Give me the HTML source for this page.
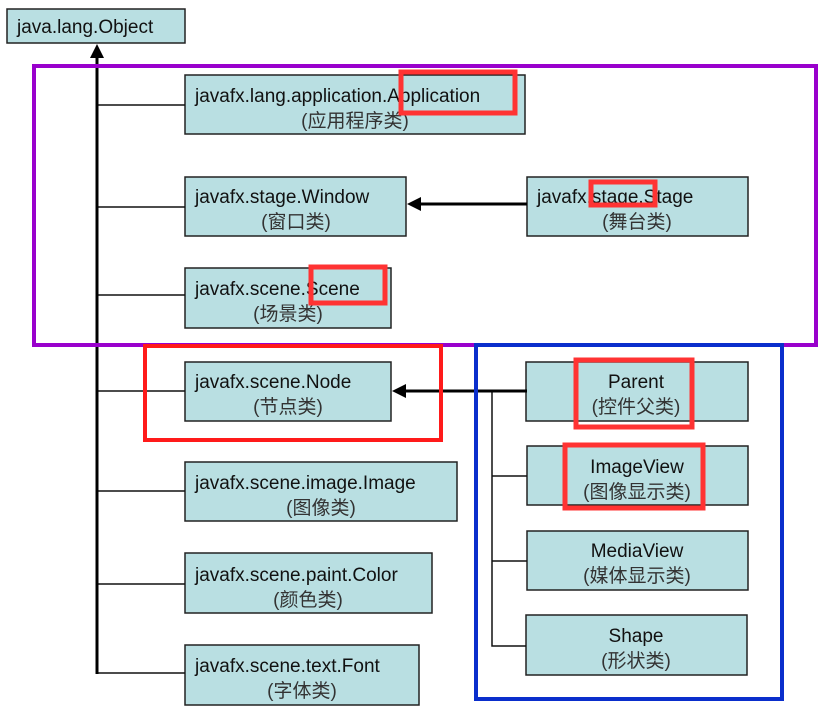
<!DOCTYPE html>
<html><head><meta charset="utf-8"><style>
html,body{margin:0;padding:0;background:#fff;}
svg{display:block;}
text{font-family:"Liberation Sans","Noto Sans CJK SC",sans-serif;font-size:19px;fill:#111;}
.c{fill:#333;}
</style></head><body>
<svg width="823" height="719" viewBox="0 0 823 719" xmlns="http://www.w3.org/2000/svg">
<g fill="#b9dfe2" stroke="#222" stroke-width="1.5">
<rect x="7" y="9" width="178" height="34"/>
<rect x="185" y="75" width="340" height="59"/>
<rect x="185" y="177" width="221" height="59"/>
<rect x="527" y="177" width="221" height="59"/>
<rect x="185" y="268" width="206" height="60"/>
<rect x="185" y="362" width="206" height="59"/>
<rect x="185" y="462" width="272" height="59"/>
<rect x="185" y="553" width="247" height="60"/>
<rect x="185" y="645" width="234" height="60"/>
<rect x="526" y="362" width="222" height="59"/>
<rect x="527" y="446" width="221" height="59"/>
<rect x="527" y="531" width="221" height="59"/>
<rect x="526" y="615" width="221" height="60"/>
</g>
<!-- connectors -->
<g stroke="#111" stroke-width="1.5" fill="none">
<line x1="97" y1="105" x2="185" y2="105"/>
<line x1="97" y1="207" x2="185" y2="207"/>
<line x1="97" y1="295" x2="185" y2="295"/>
<line x1="97" y1="391" x2="185" y2="391"/>
<line x1="97" y1="491" x2="185" y2="491"/>
<line x1="97" y1="584" x2="185" y2="584"/>
<line x1="97" y1="673" x2="185" y2="673"/>
<polyline points="492,391 492,646 526,646"/>
<line x1="492" y1="476" x2="527" y2="476"/>
<line x1="492" y1="561" x2="527" y2="561"/>
</g>
<line x1="97" y1="56" x2="97" y2="674" stroke="#000" stroke-width="3"/>
<polygon points="97,44 90,58 104,58" fill="#000"/>
<line x1="420" y1="204" x2="527" y2="204" stroke="#000" stroke-width="3"/>
<polygon points="407,204 421,197 421,211" fill="#000"/>
<line x1="405" y1="391" x2="527" y2="391" stroke="#000" stroke-width="3"/>
<polygon points="392,391 406,384 406,398" fill="#000"/>
<!-- group outlines -->
<rect x="34" y="66" width="782" height="279" fill="none" stroke="#9900cc" stroke-width="4"/>
<rect x="145" y="346" width="296" height="94" fill="none" stroke="#ff1a1a" stroke-width="4"/>
<rect x="476" y="345" width="306" height="354" fill="none" stroke="#0a2ecc" stroke-width="4"/>
<!-- texts -->
<text x="17" y="33">java.lang.Object</text>
<text x="195" y="102">javafx.lang.application.Application</text>
<text x="355" y="127" text-anchor="middle" class="c">(应用程序类)</text>
<text x="195" y="203">javafx.stage.Window</text>
<text x="296" y="228" text-anchor="middle" class="c">(窗口类)</text>
<text x="537" y="203">javafx.stage.Stage</text>
<text x="637" y="228" text-anchor="middle" class="c">(舞台类)</text>
<text x="195" y="295">javafx.scene.Scene</text>
<text x="288" y="320" text-anchor="middle" class="c">(场景类)</text>
<text x="195" y="388">javafx.scene.Node</text>
<text x="288" y="413" text-anchor="middle" class="c">(节点类)</text>
<text x="195" y="489">javafx.scene.image.Image</text>
<text x="321" y="514" text-anchor="middle" class="c">(图像类)</text>
<text x="195" y="581">javafx.scene.paint.Color</text>
<text x="308" y="606" text-anchor="middle" class="c">(颜色类)</text>
<text x="195" y="672">javafx.scene.text.Font</text>
<text x="302" y="697" text-anchor="middle" class="c">(字体类)</text>
<text x="636" y="388" text-anchor="middle">Parent</text>
<text x="636" y="413" text-anchor="middle" class="c">(控件父类)</text>
<text x="637" y="473" text-anchor="middle">ImageView</text>
<text x="637" y="498" text-anchor="middle" class="c">(图像显示类)</text>
<text x="637" y="557" text-anchor="middle">MediaView</text>
<text x="637" y="582" text-anchor="middle" class="c">(媒体显示类)</text>
<text x="636" y="642" text-anchor="middle">Shape</text>
<text x="636" y="667" text-anchor="middle" class="c">(形状类)</text>
<!-- highlight boxes -->
<g fill="none" stroke="#ff3333" stroke-width="5">
<rect x="401" y="72" width="114" height="41"/>
<rect x="591" y="182" width="64" height="23"/>
<rect x="311" y="267" width="74" height="36"/>
<rect x="576" y="360" width="116" height="67"/>
<rect x="565" y="445" width="138" height="63"/>
</g>
</svg>
</body></html>
